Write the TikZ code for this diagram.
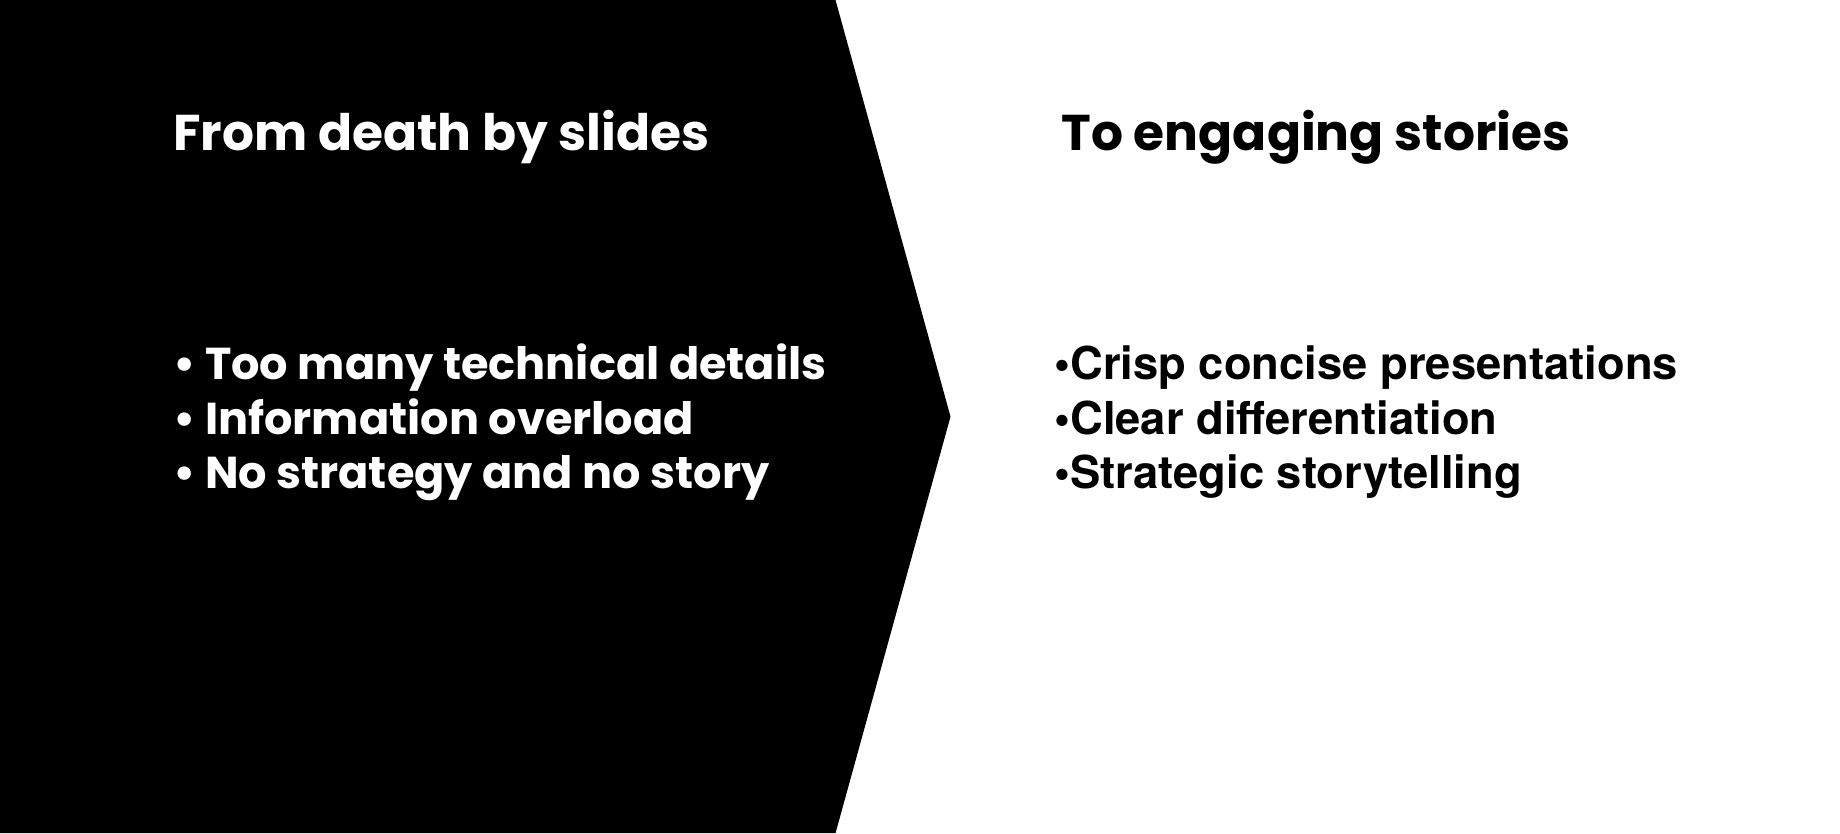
\documentclass[tikz,border=0pt]{standalone}
\usepackage{fontspec}
\setmainfont{Poppins}
\newfontfamily\rightfont{TeX Gyre Heros}
\usetikzlibrary{positioning}
\begin{document}
\begin{tikzpicture}[x=0.011735cm,y=-0.011735cm,
    titletext/.style={anchor=base west,inner sep=0pt,font=\fontsize{14.3}{17}\selectfont\bfseries},
    lefttext/.style={anchor=base west,text=white,font=\fontsize{12.7}{15}\selectfont\bfseries,inner sep=0pt},
    righttext/.style={anchor=base west,text=black,font=\rightfont\fontsize{12.9}{15}\selectfont\bfseries,inner sep=0pt}
  ]
    % Canvas
    \useasboundingbox (0,0) rectangle (1568,710);
    \fill[white] (0,0) rectangle (1568,710);
    % Black arrow panel
    \fill[black] (0,0) -- (712,0) -- (810,355) -- (712,710) -- (0,710) -- cycle;

    % Left side
    \node[titletext,text=white] (ltitle) at (147,128) {From death by slides};
    \foreach \y/\t [count=\i] in {323/Too many technical details,370/Information overload,416/No strategy and no story} {
      \node[lefttext] (lb\i) at (147,\y) {\textbullet\ \t};
    }

    % Right side
    \node[titletext,text=black] (rtitle) at (904,128) {To engaging stories};
    \foreach \y/\t [count=\i] in {323/Crisp concise presentations,370/Clear differentiation,416/Strategic storytelling} {
      \node[righttext] (rb\i) at (898,\y) {\textbullet\t};
    }
  \end{tikzpicture}
\end{document}
